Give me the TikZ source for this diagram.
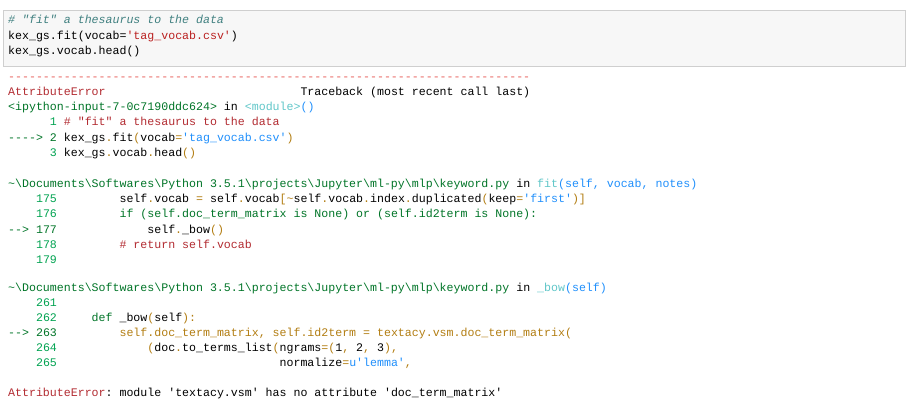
\documentclass[tikz,border=0pt]{standalone}
\usepackage{fontspec}
\setmonofont{Liberation Mono}
\definecolor{cellbg}{HTML}{F7F7F7}
\definecolor{cellbd}{HTML}{CFCFCF}
\definecolor{cmt}{HTML}{408080}
\definecolor{str}{HTML}{BA2121}
\definecolor{ared}{HTML}{E75C58}
\definecolor{dred}{HTML}{B22B31}
\definecolor{agr}{HTML}{00A250}
\definecolor{dgr}{HTML}{007427}
\definecolor{acy}{HTML}{60C6C8}
\definecolor{abl}{HTML}{208FFB}
\definecolor{ay}{HTML}{B27D12}
\newcommand\Y[1]{\textcolor{ay}{#1}}
\newcommand\B[1]{\textcolor{abl}{#1}}
\newcommand\G[1]{\textcolor{agr}{#1}}
\newcommand\DG[1]{\textcolor{dgr}{#1}}
\newcommand\R[1]{\textcolor{dred}{#1}}
\newcommand\us{\_}
\newcommand\bs{\textbackslash}
\newlength\cw \setlength\cw{6.96pt}
\tikzset{txt/.style={anchor=base west,inner sep=0pt,font=\ttfamily\fontsize{11.6}{14}\selectfont}}
\newcommand\tl[4]{\node[txt] (#1) at ({8pt+#2\cw},{-#3pt}) {#4};}
\begin{document}
\begin{tikzpicture}
\useasboundingbox (0,0) rectangle (908pt,-414pt);
\node[draw=cellbd,fill=cellbg,inner sep=0pt,minimum width=902pt,minimum height=56pt,anchor=north west] (cell) at (3pt,-10pt) {};
\tl{c1}{0}{24}{\textcolor{cmt}{\itshape \# "fit" a thesaurus to the data}}
\tl{c2}{0}{40}{kex\us gs.fit(vocab=\textcolor{str}{'tag\us vocab.csv'})}
\tl{c3}{0}{55}{kex\us gs.vocab.head()}
\tl{o0}{0}{81}{\textcolor{ared}{---------------------------------------------------------------------------}}
\tl{o1}{0}{96}{\R{AttributeError}}
\tl{o1b}{42}{96}{Traceback (most recent call last)}
\tl{o2}{0}{111}{\DG{<ipython-input-7-0c7190ddc624>} in \textcolor{acy}{<module>}\B{()}}
\tl{o3}{6}{126}{\G{1} \R{\# "fit" a thesaurus to the data}}
\tl{o4}{0}{142}{\DG{---->}}
\tl{o4b}{6}{142}{\DG{2} kex\us gs\Y{.}fit\Y{(}vocab\Y{=}\B{'tag\us vocab.csv'}\Y{)}}
\tl{o5}{6}{157}{\G{3} kex\us gs\Y{.}vocab\Y{.}head\Y{()}}
\tl{p1}{0}{188}{\DG{\textasciitilde\bs Documents\bs Softwares\bs Python 3.5.1\bs projects\bs Jupyter\bs ml-py\bs mlp\bs keyword.py} in \textcolor{acy}{fit}\B{(self, vocab, notes)}}
\tl{n175}{4}{203}{\G{175}}
\tl{k175}{16}{203}{self\Y{.}vocab \Y{=} self\Y{.}vocab\Y{[\textasciitilde}self\Y{.}vocab\Y{.}index\Y{.}duplicated\Y{(}keep\Y{=}\B{'first'}\Y{)]}}
\tl{n176}{4}{218}{\G{176}}
\tl{k176}{16}{218}{\DG{if (self.doc\us term\us matrix is None) or (self.id2term is None):}}
\tl{a177}{0}{234}{\DG{-->}}
\tl{n177}{4}{234}{\DG{177}}
\tl{k177}{20}{234}{self\Y{.}\us bow\Y{()}}
\tl{n178}{4}{249}{\G{178}}
\tl{k178}{16}{249}{\R{\# return self.vocab}}
\tl{n179}{4}{264}{\G{179}}
\tl{p2}{0}{291}{\DG{\textasciitilde\bs Documents\bs Softwares\bs Python 3.5.1\bs projects\bs Jupyter\bs ml-py\bs mlp\bs keyword.py} in \textcolor{acy}{\us bow}\B{(self)}}
\tl{n261}{4}{306}{\G{261}}
\tl{n262}{4}{321}{\G{262}}
\tl{k262}{12}{321}{\DG{def} \us bow\Y{(}self\Y{):}}
\tl{a263}{0}{336}{\DG{-->}}
\tl{n263}{4}{336}{\DG{263}}
\tl{k263}{16}{336}{\Y{self.doc\us term\us matrix, self.id2term = textacy.vsm.doc\us term\us matrix(}}
\tl{n264}{4}{351}{\G{264}}
\tl{k264}{20}{351}{\Y{(}doc\Y{.}to\us terms\us list\Y{(}ngrams\Y{=(}1\Y{,} 2\Y{,} 3\Y{),}}
\tl{n265}{4}{366}{\G{265}}
\tl{k265}{39}{366}{normalize\Y{=}\B{u'lemma'}\Y{,}}
\tl{e1}{0}{396}{\R{AttributeError}: module 'textacy.vsm' has no attribute 'doc\us term\us matrix'}
\end{tikzpicture}
\end{document}
